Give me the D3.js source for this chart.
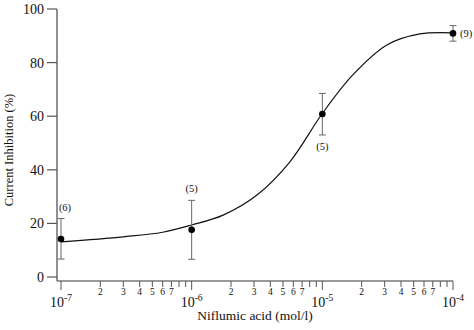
<!DOCTYPE html>
<html>
<head>
<meta charset="utf-8">
<script src="https://cdn.jsdelivr.net/npm/d3@7/dist/d3.min.js"></script>
<style>
  html, body { margin: 0; padding: 0; background: #fff; }
  svg { display: block; }
</style>
</head>
<body>
<svg id="chart" width="474" height="330" font-family="Liberation Serif"></svg>
<script>
// Mean inhibition at each niflumic acid concentration
const concentrations = [1e-7, 1e-6, 1e-5, 1e-4];
const inhibition = [14.2, 17.6, 60.8, 90.9];
const errUpper = [21.8, 28.6, 68.5, 93.8];
const errLower = [6.7, 6.6, 53.0, 88.0];
const nLabels = ["(6)", "(5)", "(5)", "(9)"];
const nLabelPos = ["above", "above", "below", "right"];

// Fitted concentration–response curve
const fitConc = [1e-7, 3e-7, 6e-7, 1e-6, 1.74e-6, 3.16e-6, 5.65e-6, 1e-5, 1.71e-5, 3.12e-5, 5.58e-5, 1e-4];
const fitValue = [13.1, 15.0, 16.7, 19.4, 23.1, 30.6, 43.0, 61.0, 75.4, 86.6, 90.7, 91.1];

const yTicks = [0, 20, 40, 60, 80, 100];
const decadeExponents = [-7, -6, -5, -4];
const minorLabelled = [2, 3, 4, 5, 6, 7];

const svg = d3.select("#chart");

const x = d3.scaleLog().domain([1e-7, 1e-4]).range([61, 453]);
const y = d3.scaleLinear().domain([0, 100]).range([277, 9]);

const axisColor = "#555";
const ink = "#111";

// Y axis
const yAxis = svg.append("g").attr("transform", "translate(57,0)");
yAxis.append("line").attr("x1", 0).attr("x2", 0).attr("y1", y(100)).attr("y2", 281)
  .attr("stroke", axisColor).attr("stroke-width", 1.3);
yTicks.forEach(t => {
  yAxis.append("line").attr("x1", -10).attr("x2", 0).attr("y1", y(t)).attr("y2", y(t))
    .attr("stroke", axisColor).attr("stroke-width", 1.2);
  yAxis.append("text").attr("x", -13).attr("y", y(t)).attr("dy", "0.35em")
    .attr("text-anchor", "end").attr("font-size", 14).attr("fill", ink).text(t);
});
svg.append("text")
  .attr("transform", "translate(12.5,150) rotate(-90)")
  .attr("text-anchor", "middle").attr("font-size", 12.5).attr("fill", ink)
  .text("Current Inhibition (%)");

// X axis (log scale with minor ticks)
const xAxis = svg.append("g").attr("transform", "translate(0,281)");
xAxis.append("line").attr("x1", 57).attr("x2", x(1e-4)).attr("y1", 0).attr("y2", 0)
  .attr("stroke", "#777").attr("stroke-width", 1.3);
decadeExponents.forEach((e, i) => {
  const base = Math.pow(10, e);
  xAxis.append("line").attr("x1", x(base)).attr("x2", x(base)).attr("y1", 0).attr("y2", 9)
    .attr("stroke", axisColor).attr("stroke-width", 1);
  const lbl = xAxis.append("text").attr("x", x(base)).attr("y", 26)
    .attr("text-anchor", "middle").attr("font-size", 14).attr("fill", ink);
  lbl.append("tspan").text("10");
  lbl.append("tspan").attr("dy", -6).attr("font-size", 9.5).text(String(e));
  if (i < decadeExponents.length - 1) {
    for (let m = 2; m <= 9; m++) {
      const v = m * base;
      xAxis.append("line").attr("x1", x(v)).attr("x2", x(v)).attr("y1", 0).attr("y2", 6)
        .attr("stroke", axisColor).attr("stroke-width", 1);
      if (minorLabelled.includes(m)) {
        xAxis.append("text").attr("x", x(v)).attr("y", 14)
          .attr("text-anchor", "middle").attr("font-size", 9.5).attr("fill", ink).text(m);
      }
    }
  }
});
svg.append("text").attr("x", 255).attr("y", 320)
  .attr("text-anchor", "middle").attr("font-size", 13.5).attr("fill", ink)
  .text("Niflumic acid (mol/l)");

// Fitted curve
const fit = fitConc.map((c, i) => [c, fitValue[i]]);
svg.append("path")
  .datum(fit)
  .attr("fill", "none").attr("stroke", ink).attr("stroke-width", 1.2)
  .attr("d", d3.line().x(d => x(d[0])).y(d => y(d[1])).curve(d3.curveCatmullRom.alpha(0.5)));

// Error bars
const data = concentrations.map((c, i) => ({
  c, v: inhibition[i], hi: errUpper[i], lo: errLower[i], n: nLabels[i], pos: nLabelPos[i]
}));
const bars = svg.append("g").attr("stroke", "#666").attr("stroke-width", 1);
data.forEach(d => {
  const cx = x(d.c);
  bars.append("line").attr("x1", cx).attr("x2", cx).attr("y1", y(d.hi)).attr("y2", y(d.lo));
  bars.append("line").attr("x1", cx - 3.5).attr("x2", cx + 3.5).attr("y1", y(d.hi)).attr("y2", y(d.hi));
  bars.append("line").attr("x1", cx - 3.5).attr("x2", cx + 3.5).attr("y1", y(d.lo)).attr("y2", y(d.lo));
});

// Means
svg.append("g").selectAll("circle").data(data).join("circle")
  .attr("cx", d => x(d.c)).attr("cy", d => y(d.v)).attr("r", 3.3).attr("fill", "#000");

// Number of cells
svg.append("g").selectAll("text").data(data).join("text")
  .attr("font-size", 10.5).attr("fill", ink)
  .attr("text-anchor", d => d.pos === "right" ? "start" : "middle")
  .attr("x", d => d.pos === "right" ? x(d.c) + 7 : x(d.c) + (d.pos === "above" && d.c < 5e-7 ? 4 : 0))
  .attr("y", d => d.pos === "above" ? y(d.hi) - 8 : d.pos === "below" ? y(d.lo) + 15 : y(d.v) + 3.5)
  .text(d => d.n);
</script>
</body>
</html>
